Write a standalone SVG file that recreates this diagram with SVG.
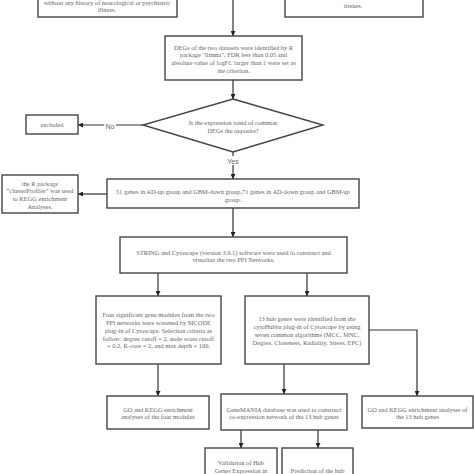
<svg xmlns="http://www.w3.org/2000/svg" width="474" height="474" viewBox="0 0 474 474">
<defs>
<marker id="ah" viewBox="0 0 10 10" refX="10" refY="5" markerWidth="5" markerHeight="5" markerUnits="userSpaceOnUse" orient="auto">
<path d="M0,0 L10,5 L0,10 z" fill="#222"/>
</marker>
<style>
.b{fill:#fff;stroke:#444;stroke-width:1.4}
.t{font-family:"Liberation Serif","Times New Roman",serif;font-size:6.4px;fill:#666;text-anchor:middle;dominant-baseline:central}
.s{font-family:"Liberation Sans",Arial,sans-serif;font-size:7px;fill:#666;text-anchor:middle;dominant-baseline:central}
.c{fill:none;stroke:#333;stroke-width:1.2}
</style>
</defs>
<rect width="474" height="474" fill="#fff"/>
<g id="connectors">
<line class="c" x1="233" y1="-2" x2="233" y2="36" marker-end="url(#ah)"/>
<line class="c" x1="233" y1="80" x2="233" y2="99" marker-end="url(#ah)"/>
<line class="c" x1="143" y1="125" x2="78" y2="125" marker-end="url(#ah)"/>
<line class="c" x1="233" y1="152" x2="233" y2="179" marker-end="url(#ah)"/>
<line class="c" x1="107" y1="194" x2="78" y2="194" marker-end="url(#ah)"/>
<line class="c" x1="233" y1="208" x2="233" y2="237" marker-end="url(#ah)"/>
<line class="c" x1="158" y1="273" x2="158" y2="296" marker-end="url(#ah)"/>
<line class="c" x1="307" y1="273" x2="307" y2="296" marker-end="url(#ah)"/>
<polyline class="c" points="369,330 417,330 417,396" marker-end="url(#ah)"/>
<line class="c" x1="158" y1="364" x2="158" y2="396" marker-end="url(#ah)"/>
<line class="c" x1="284" y1="364" x2="284" y2="394" marker-end="url(#ah)"/>
<line class="c" x1="241" y1="430" x2="241" y2="448" marker-end="url(#ah)"/>
<line class="c" x1="318" y1="430" x2="318" y2="448" marker-end="url(#ah)"/>
<rect x="104" y="121" width="12" height="9" fill="#fff"/>
<text class="s" x="110" y="126">No</text>
<rect x="226" y="156" width="14" height="9" fill="#fff"/>
<text class="s" x="233" y="161">Yes</text>
</g>
<g id="n_top_left">
<rect class="b" x="38" y="-20" width="139" height="37"/>
<text class="t" x="107" y="2">without any history of neurological or psychiatric</text>
<text class="t" x="107" y="9.5">illness.</text>
</g>
<g id="n_top_right">
<rect class="b" x="285" y="-20" width="138" height="37"/>
<text class="t" x="353" y="5">tissues.</text>
</g>
<g id="n_degs">
<rect class="b" x="165" y="36" width="137" height="44"/>
<text class="t" x="233.5" y="47">DEGs of the two datasets were identified by R</text>
<text class="t" x="233.5" y="54.7">package "limma", FDR less than 0.05 and</text>
<text class="t" x="233.5" y="62.4">absolute value of logFC larger than 1 were set as</text>
<text class="t" x="233.5" y="70.1">the criterion.</text>
</g>
<g id="n_diamond">
<polygon class="b" points="233,99 323,125 233,152 143,125"/>
<text class="t" x="233" y="122">Is the expression trend of common</text>
<text class="t" x="233" y="130">DEGs the opposite?</text>
</g>
<g id="n_excluded">
<rect class="b" x="26" y="115" width="52" height="19"/>
<text class="t" x="52" y="124.5">excluded</text>
</g>
<g id="n_51genes">
<rect class="b" x="107" y="179" width="252" height="29"/>
<text class="t" x="233" y="191">51 genes in AD-up group and GBM-down group,71 genes in AD-down group and GBM-up</text>
<text class="t" x="233" y="199">group.</text>
</g>
<g id="n_rpackage">
<rect class="b" x="2" y="175" width="76" height="38"/>
<text class="t" x="40" y="183">the R package</text>
<text class="t" x="40" y="190.7">“clusterProfiler” was used</text>
<text class="t" x="40" y="198.4">to KEGG enrichment</text>
<text class="t" x="40" y="206.1">Analyses.</text>
</g>
<g id="n_string">
<rect class="b" x="120" y="237" width="227" height="36"/>
<text class="t" x="233.5" y="252">STRING and Cytoscape (version 3.9.1) software were used to construct and</text>
<text class="t" x="233.5" y="259.7">visualize the two PPI Networks.</text>
</g>
<g id="n_modules">
<rect class="b" x="96" y="296" width="125" height="68"/>
<text class="t" x="158.5" y="314.3">Four significant gene modules from the two</text>
<text class="t" x="158.5" y="322.2">PPI networks were screened by MCODE</text>
<text class="t" x="158.5" y="330.1">plug-in of Cytoscape. Selection criteria as</text>
<text class="t" x="158.5" y="338">follow: degree cutoff = 2, node score cutoff</text>
<text class="t" x="158.5" y="345.9">= 0.2, K-core = 2, and max depth = 100.</text>
</g>
<g id="n_hub">
<rect class="b" x="245" y="296" width="124" height="68"/>
<text class="t" x="307" y="318.3">13 hub genes were identified from the</text>
<text class="t" x="307" y="326.2">cytoHubba plug-in of Cytoscape by using</text>
<text class="t" x="307" y="334.1">seven common algorithms (MCC, MNC,</text>
<text class="t" x="307" y="342">Degree, Closeness, Radiality, Stress, EPC)</text>
</g>
<g id="n_go_modules">
<rect class="b" x="107" y="396" width="102" height="33"/>
<text class="t" x="158" y="409">GO and KEGG enrichment</text>
<text class="t" x="158" y="416.8">analyses of the four modules</text>
</g>
<g id="n_genemania">
<rect class="b" x="221" y="394" width="126" height="36"/>
<text class="t" x="284" y="409">GeneMANIA database was used to construct</text>
<text class="t" x="284" y="416.8">co-expression network of the 13 hub genes</text>
</g>
<g id="n_go_hub">
<rect class="b" x="362" y="396" width="111" height="32"/>
<text class="t" x="417.5" y="409">GO and KEGG enrichment analyses of</text>
<text class="t" x="417.5" y="416.8">the 13 hub genes</text>
</g>
<g id="n_validation">
<rect class="b" x="205" y="448" width="72" height="40"/>
<text class="t" x="241" y="462">Validation of Hub</text>
<text class="t" x="241" y="470">Genes Expression in</text>
</g>
<g id="n_prediction">
<rect class="b" x="282" y="448" width="71" height="40"/>
<text class="t" x="317.5" y="470">Prediction of the hub</text>
</g>
</svg>
